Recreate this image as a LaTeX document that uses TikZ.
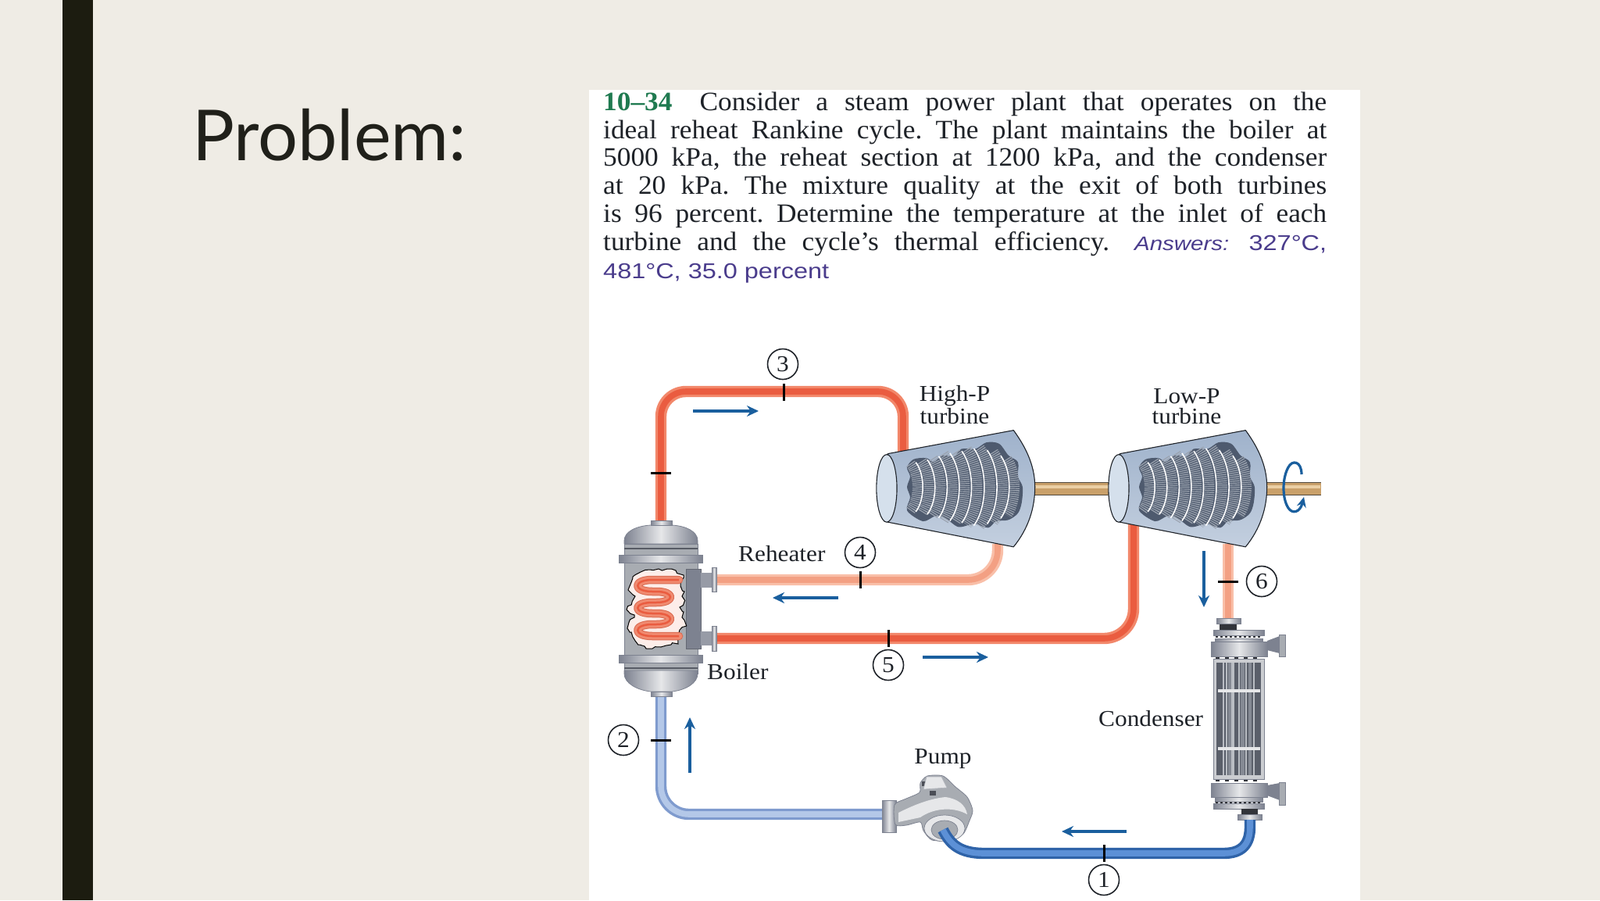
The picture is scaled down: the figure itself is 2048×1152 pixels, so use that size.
\documentclass[tikz,border=0pt]{standalone}
\usepackage{fontspec}
\setmainfont{Liberation Serif}
\newfontfamily\parafont[FakeStretch=1.04]{Liberation Serif}
\newfontfamily\labelfont[FakeStretch=1.08]{Liberation Serif}
\newfontfamily\ansfont[FakeStretch=1.18]{Liberation Sans}
\newfontfamily\titlefont{Lato}
\usetikzlibrary{arrows.meta,calc,decorations.pathmorphing}
\definecolor{bgc}{HTML}{EFECE5}
\definecolor{barc}{HTML}{1C1C10}
\definecolor{titlec}{HTML}{20201A}
\definecolor{greenc}{HTML}{1F7A50}
\definecolor{purplec}{HTML}{4A3C8C}
\definecolor{inkc}{HTML}{1E2228}
\definecolor{hotedge}{HTML}{F2876A}
\definecolor{hotcore}{HTML}{EA5C40}
\definecolor{warmedge}{HTML}{F9BFA8}
\definecolor{warmcore}{HTML}{F3A083}
\definecolor{paleedge}{HTML}{7F9BCE}
\definecolor{palecore}{HTML}{B4C8E8}
\definecolor{coldedge}{HTML}{2F63A8}
\definecolor{coldcore}{HTML}{5C90D6}
\definecolor{flowc}{HTML}{1A5F9E}
\definecolor{steeld}{HTML}{7D8290}
\definecolor{steelm}{HTML}{A8ACB2}
\definecolor{steell}{HTML}{E6E7E9}
\definecolor{tubeb}{HTML}{5A5F6A}
\definecolor{tubel}{HTML}{B9BDC3}
\definecolor{tubem}{HTML}{858A94}
\definecolor{turbl}{HTML}{D5E0EC}
\definecolor{turbt}{HTML}{9FB2CB}
\definecolor{turbb}{HTML}{C3CFDF}
\definecolor{bladed}{HTML}{4E5A6E}
\definecolor{bladeh}{HTML}{9AA2AE}
\definecolor{shaftc}{HTML}{C9A06A}
\definecolor{shaftl}{HTML}{EBCFA4}
\definecolor{coilc}{HTML}{F08A70}
\definecolor{coile}{HTML}{D96A50}
\tikzset{
 x=1pt,y=-1pt,
 pipebase/.style={line width=3.4pt,double distance=7.6pt,line cap=butt,line join=round},
 hotpipe/.style={pipebase,draw=hotedge,double=hotcore},
 warmpipe/.style={pipebase,draw=warmedge,double=warmcore},
 palepipe/.style={pipebase,draw=paleedge,double=palecore},
 coldpipe/.style={pipebase,draw=coldedge,double=coldcore},
 metal/.style={left color=steeld,right color=steeld,middle color=steell,draw=steeld,line width=.8pt},
 tick/.style={draw=black,line width=3pt},
 flow/.style={draw=flowc,line width=3.4pt,-{Stealth[length=15pt,width=14pt]}},
 statept/.style={circle,draw=inkc,line width=1.6pt,fill=white,minimum size=39pt,inner sep=0pt,text=inkc,font=\labelfont\fontsize{29}{30}\selectfont},
 lbl/.style={inner sep=0pt,text=inkc,font=\labelfont\fontsize{29}{30}\selectfont},
 para/.style={inner sep=0pt,anchor=base west,text=inkc,font=\parafont\frenchspacing\fontsize{34}{36}\selectfont},
}
\newcommand{\tline}[3]{\node[para] (#1) at (772,#2) {\makebox[926pt][s]{#3}};}
\newcommand{\turbineshape}{%
 \path[top color=turbt,bottom color=turbb,draw=inkc,line width=1.1pt]
  (92,182) -- (497,92) .. controls (545,170) and (566,240) .. (566,310)
  .. controls (566,390) and (545,470) .. (497,540) -- (92,445) -- cycle;
 \path[fill=turbl,draw=inkc,line width=1.1pt] (88,315) ellipse [x radius=33,y radius=130];
 \path[fill=bladed,draw=bladed,line width=1pt] plot[smooth cycle,tension=.5] coordinates
  {(155,235) (175,205) (215,200) (240,215) (270,190) (305,195) (330,165) (375,165) (410,140)
   (450,145) (480,190) (510,215) (510,270) (525,310) (522,370) (510,410) (480,435) (440,440)
   (415,465) (370,450) (320,462) (280,430) (245,420) (205,440) (155,400) (165,350) (155,310) (165,270)};
 \foreach \bx/\bh/\bw in {195/90/30, 232/100/30, 270/110/33, 310/128/38, 350/133/40, 392/145/45, 433/150/45, 472/135/40, 508/108/32}{
   \draw[bladeh,line width=13pt,dash pattern=on 1.2pt off 1.4pt]
     (\bx-\bw,310-\bh) .. controls (\bx,310-\bh/2) and (\bx,310+\bh/2) .. (\bx-\bw,310+\bh);
 }
 \foreach \bx/\bh/\bw in {212/95/30, 252/105/33, 292/118/36, 332/130/40, 372/138/42, 414/148/45, 454/142/42, 492/120/36}{
   \draw[white,line width=1.6pt]
     (\bx-\bw,310-\bh) .. controls (\bx,310-\bh/2) and (\bx,310+\bh/2) .. (\bx-\bw,310+\bh);
 }
}
\newcommand{\coilpath}{(869,742) -- (835,742) .. controls (810,742) and (810,757) .. (835,757) -- (840,757)
 .. controls (864,757) and (864,771) .. (840,771) -- (835,771)
 .. controls (810,771) and (810,785) .. (835,785) -- (840,785)
 .. controls (864,785) and (864,799) .. (840,799) -- (835,799)
 .. controls (810,799) and (810,814) .. (835,814) -- (869,814)}
\begin{document}
\begin{tikzpicture}
\useasboundingbox (0,0) rectangle (2048,1152);
\fill[bgc] (0,0) rectangle (2048,1152);
\fill[barc] (80,0) rectangle (119,1152);
\fill[white] (754,115) rectangle (1741,1152);
\node[inner sep=0pt,anchor=base west,text=titlec,font=\titlefont\fontsize{90}{100}\selectfont] (title) at (246,205) {Problem:};

% paragraph
\tline{l1}{141}{{\bfseries\color{greenc}10–34}\hspace{14pt} Consider a steam power plant that operates on the}
\tline{l2}{177}{ideal reheat Rankine cycle. The plant maintains the boiler at}
\tline{l3}{212}{5000 kPa, the reheat section at 1200 kPa, and the condenser}
\tline{l4}{248}{at 20 kPa. The mixture quality at the exit of both turbines}
\tline{l5}{284}{is 96 percent. Determine the temperature at the inlet of each}
\tline{l6}{320}{turbine and the cycle’s thermal efficiency. \hspace{12pt}{\ansfont\color{purplec}{\fontsize{25}{30}\selectfont\textit{Answers:}} {\fontsize{27.5}{30}\selectfont 327°C,}}}
\node[para,text=purplec,font=\ansfont\fontsize{27.5}{30}\selectfont] (l7) at (772,356) {481°C, 35.0 percent};

% pipe end points
\coordinate (blrtop) at (846,672);
\coordinate (blrbot) at (846,888);
\coordinate (blrre) at (917,742);
\coordinate (blrlo) at (917,817);
\coordinate (hpin) at (1156,585);
\coordinate (hpout) at (1277,696);
\coordinate (lpin) at (1451,668);
\coordinate (lpout) at (1572,696);
\coordinate (cndin) at (1572,795);
\coordinate (cndout) at (1600,1049);
\coordinate (pmpin) at (1207,1062);
\coordinate (pmpout) at (1136,1042);

% pipes
\draw[hotpipe,rounded corners=32pt] (blrtop) -- (846,501) -- (1156,501) -- (hpin);
\draw[warmpipe,rounded corners=38pt] (blrre) -- (1277,742) -- (hpout);
\draw[hotpipe,rounded corners=38pt] (blrlo) -- (1451,817) -- (lpin);
\draw[warmpipe] (lpout) -- (cndin);
\draw[palepipe,rounded corners=36pt] (blrbot) -- (846,1042) -- (pmpout);

% shafts
\draw[line width=17pt,inkc!70!shaftc] (1325,625) -- (1433,625);
\draw[line width=15pt,shaftc] (1325,625) -- (1433,625);
\draw[line width=4pt,shaftl] (1325,623) -- (1433,623);
\draw[line width=17pt,inkc!70!shaftc] (1622,625) -- (1691,625);
\draw[line width=15pt,shaftc] (1622,625) -- (1691,625);
\draw[line width=4pt,shaftl] (1622,623) -- (1690,623);

% turbines
\begin{scope}[shift={(1100,520)},xscale=0.397,yscale=0.333]
 \turbineshape
\end{scope}
\begin{scope}[shift={(1397,520)},xscale=0.397,yscale=0.333]
 \turbineshape
\end{scope}

% shaft rotation
\draw[draw=flowc,line width=3.2pt,-{Stealth[length=13pt,width=12pt]}]
  (1666,607) .. controls (1666,590) and (1654,588) .. (1649,598)
  .. controls (1641,612) and (1641,638) .. (1649,650)
  .. controls (1654,658) and (1664,656) .. (1669,636);

% boiler
\path[metal] (799,696) -- (799,692) .. controls (799,680) and (815,673) .. (833,672) -- (860,672) .. controls (878,673) and (893,680) .. (893,692) -- (893,696) -- cycle;
\path[metal] (833,666) rectangle (860,672);
\path[fill=steelm,draw=steeld,line width=.8pt] (799,696) rectangle (893,862);
\draw[steeld!70!black,line width=2.4pt] (799,702) -- (893,702);
\path[metal] (792,710) rectangle (899,720);
\path[metal] (792,838) rectangle (899,848);
\path[metal] (799,862) -- (799,858) -- (893,858) -- (893,862) .. controls (893,874) and (878,883) .. (860,885) -- (833,885) .. controls (815,883) and (799,874) .. (799,862) -- cycle;
\path[metal] (833,885) rectangle (860,891);
\draw[steeld!70!black,line width=2.4pt] (799,855) -- (893,855);
\path[fill=steeld,draw=steeld!80!black,line width=.8pt] (878,728) rectangle (897,830);
\path[fill=steeld!80!white] (897,733) rectangle (912,752);
\path[fill=steeld!80!white] (897,808) rectangle (912,826);
\path[metal] (911,726) rectangle (917,757);
\path[metal] (911,801) rectangle (917,833);
% boiler cut-away
\path[fill=white!85!hotedge,draw=black,line width=1pt,line join=miter,decorate,decoration={random steps,segment length=5pt,amplitude=2.5pt}] (810,738) -- (820,732) -- (832,729) -- (843,728) -- (854,728) -- (865,730) -- (875,736) -- (871,750) -- (876,757) -- (873,763) -- (876,770) -- (870,777) -- (875,783) -- (873,790) -- (879,801) -- (870,806) -- (868,824) -- (859,825) -- (846,828) -- (835,830) -- (825,827) -- (813,820) -- (803,804) -- (812,787) -- (802,780) -- (813,763) -- (804,755) -- cycle;
\draw[coile,line width=10.5pt,line join=round,line cap=round] \coilpath;
\draw[coilc,line width=8.5pt,line join=round,line cap=round] \coilpath;
\draw[hotcore,line width=2.5pt,line join=round] \coilpath;

% condenser
\path[fill=steelm!60!white,draw=steeld,line width=.8pt] (1553,843) rectangle (1618,997);
\path[fill=tubeb] (1557,848) rectangle (1614,992);
\foreach \tx/\tw in {1574/4,1590/5,1600/4}{ \draw[tubem,line width=\tw pt] (\tx,848) -- (\tx,992); }
\foreach \tx/\tw in {1566/2,1570/2,1578/4,1586/2.5,1595/2,1605/2}{
  \draw[tubel,line width=\tw pt] (\tx,848) -- (\tx,992);
}
\draw[steell,line width=3.6pt] (1559,884) -- (1613,884);
\draw[steell,line width=3.6pt] (1559,958) -- (1613,958);
\path[fill=steeld!40!black] (1561,798) rectangle (1583,806);
\path[metal] (1557,791) rectangle (1588,798);
\path[metal] (1553,806) rectangle (1618,813);
\draw[steeld!40!black,line width=2pt,dash pattern=on 3pt off 3pt] (1556,815) -- (1614,815);
\path[metal] (1555,817) rectangle (1616,821);
\path[metal] (1550,821) rectangle (1622,840);
\draw[steeld!40!black,line width=2pt,dash pattern=on 5pt off 7pt] (1556,842) -- (1614,842);
\draw[steeld!40!black,line width=2pt,dash pattern=on 5pt off 7pt] (1556,999) -- (1614,999);
\path[metal] (1550,1002) rectangle (1622,1020);
\path[metal] (1555,1020) rectangle (1616,1026);
\draw[steeld!40!black,line width=2pt,dash pattern=on 3pt off 3pt] (1556,1027) -- (1614,1027);
\path[metal] (1553,1028) rectangle (1618,1035);
\path[fill=steeld!40!black] (1589,1035) rectangle (1610,1042);
\path[metal] (1584,1042) rectangle (1615,1049);
\path[fill=steeld] (1622,820) -- (1638,814) -- (1638,836) -- (1622,832) -- cycle;
\path[fill=steelm,draw=steeld,line width=.6pt] (1637,812) rectangle (1645,840);
\path[fill=steeld] (1622,1005) -- (1638,1002) -- (1638,1024) -- (1622,1018) -- cycle;
\path[fill=steelm,draw=steeld,line width=.6pt] (1637,1001) rectangle (1645,1030);

% pump
\path[metal] (1129,1024) rectangle (1147,1065);
\path[fill=steelm,draw=steeld,line width=.8pt,line join=round] plot[smooth cycle,tension=.45] coordinates
 {(1145,1030) (1160,1022) (1177,1014) (1178,1002) (1187,993) (1207,993) (1223,1007) (1238,1020) (1245,1037) (1241,1050) (1233,1067) (1217,1075) (1193,1075) (1182,1063) (1178,1052) (1160,1056) (1146,1055)};
\path[fill=steell] (1150,1040) .. controls (1170,1030) and (1190,1022) .. (1210,1020) .. controls (1226,1022) and (1236,1030) .. (1238,1042) .. controls (1220,1032) and (1195,1034) .. (1178,1046) -- (1150,1052) -- cycle;
\path[fill=steell,draw=steeld,line width=.7pt] (1209,1060) ellipse [x radius=26,y radius=17];
\path[fill=steelm,draw=steeld,line width=.7pt] (1209,1062) ellipse [x radius=17,y radius=12];
\path[fill=steeld!60!black] (1180,1000) rectangle (1186,1006);
\path[fill=steell,draw=steeld!60,line width=.6pt] (1186,994) -- (1205,994) -- (1212,1008) -- (1182,1010) -- cycle;
\path[fill=steeld!60!black] (1190,1012) rectangle (1198,1018);
% pump discharge pipe, laid over the casing
\draw[coldpipe] (pmpin) .. controls (1216,1080) and (1228,1092) .. (1260,1092) -- (1566,1092) .. controls (1590,1092) and (1600,1080) .. (1600,1058) -- (cndout);

% tick marks
\draw[tick] (1003,491) -- (1003,513);
\draw[tick] (833,605) -- (859,605);
\draw[tick] (1101,731) -- (1101,753);
\draw[tick] (1137,806) -- (1137,828);
\draw[tick] (1559,744) -- (1585,744);
\draw[tick] (833,947) -- (859,947);
\draw[tick] (1413,1081) -- (1413,1103);

% state points
\node[statept] (s3) at (1002,466) {3};
\node[statept] (s4) at (1101,707) {4};
\node[statept] (s5) at (1137,851) {5};
\node[statept] (s6) at (1615,744) {6};
\node[statept] (s2) at (798,947) {2};
\node[statept] (s1) at (1413,1126) {1};

% flow arrows
\coordinate (f1a) at (887,526); \coordinate (f1b) at (971,526);
\coordinate (f2a) at (1073,765); \coordinate (f2b) at (989,765);
\coordinate (f3a) at (1181,841); \coordinate (f3b) at (1265,841);
\coordinate (f4a) at (1541,705); \coordinate (f4b) at (1541,777);
\coordinate (f5a) at (883,989); \coordinate (f5b) at (883,918);
\coordinate (f6a) at (1442,1064); \coordinate (f6b) at (1359,1064);
\draw[flow] (f1a) -- (f1b);
\draw[flow] (f2a) -- (f2b);
\draw[flow] (f3a) -- (f3b);
\draw[flow] (f4a) -- (f4b);
\draw[flow] (f5a) -- (f5b);
\draw[flow] (f6a) -- (f6b);

% labels
\node[lbl] (hp1) at (1222,507) {High-P};
\node[lbl] (hp2) at (1222,533) {turbine};
\node[lbl] (lp1) at (1519,507) {Low-P};
\node[lbl] (lp2) at (1519,533) {turbine};
\node[lbl,anchor=west] (reh) at (945,709) {Reheater};
\node[lbl,anchor=west] (boi) at (905,860) {Boiler};
\node[lbl,anchor=west] (con) at (1406,920) {Condenser};
\node[lbl] (pmp) at (1207,971) {Pump};
\end{tikzpicture}
\end{document}
